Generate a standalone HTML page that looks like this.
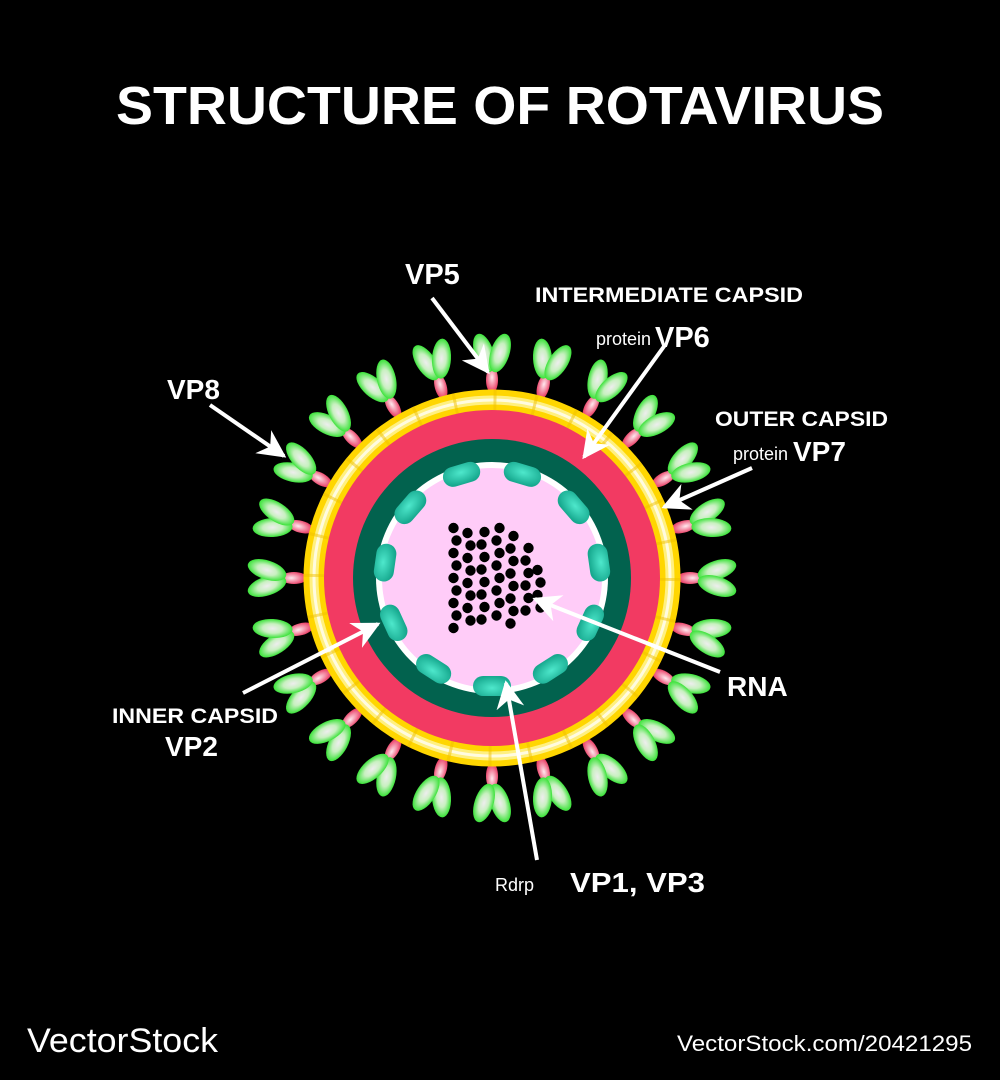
<!DOCTYPE html>
<html><head><meta charset="utf-8"><style>
html,body{margin:0;padding:0;background:#000;width:1000px;height:1080px;overflow:hidden}
svg{display:block}
text{font-family:"Liberation Sans",sans-serif;fill:#fff;font-weight:bold}
</style></head><body>
<svg id="s" width="1000" height="1080" viewBox="0 0 1000 1080">
<defs>
<radialGradient id="leaf" cx="0.5" cy="0.5" r="0.55">
<stop offset="0" stop-color="#eeeeee"/><stop offset="0.45" stop-color="#c8f0c0"/><stop offset="1" stop-color="#1ee01e"/></radialGradient>
<radialGradient id="stalk" cx="0.5" cy="0.4" r="0.6">
<stop offset="0" stop-color="#ffe8ee"/><stop offset="1" stop-color="#e8305a"/></radialGradient>
<radialGradient id="bead" cx="0.5" cy="0.4" r="0.6">
<stop offset="0" stop-color="#4ee8cc"/><stop offset="1" stop-color="#16a88e"/></radialGradient>
<marker id="ah" viewBox="0 0 10 10" refX="9" refY="5" markerWidth="7" markerHeight="7" orient="auto" markerUnits="strokeWidth">
<path d="M0,0 L10,5 L0,10 L3,5 z" fill="#fff"/></marker>
</defs>
<text x="500" y="124" text-anchor="middle" font-size="54" textLength="768" lengthAdjust="spacingAndGlyphs">STRUCTURE OF ROTAVIRUS</text>
<g id="spikes"></g>
<circle cx="492" cy="578" r="178" fill="none" stroke="#ffd600" stroke-width="21"/>
<circle cx="492" cy="578" r="178" fill="none" stroke="#fff080" stroke-width="9"/>
<circle cx="492" cy="578" r="178" fill="none" stroke="#fffbe0" stroke-width="3"/>
<circle cx="492" cy="578" r="178" fill="none" stroke="#f0c000" stroke-width="21" stroke-dasharray="3 37" opacity="0.5"/>
<circle cx="492" cy="578" r="168" fill="#f23a62"/>
<circle cx="492" cy="578" r="139" fill="#02624e"/>
<circle cx="492" cy="578" r="116" fill="#fff"/>
<circle cx="492" cy="578" r="110" fill="#ffccf8"/>
<g id="beads"></g>
<g id="rna" fill="#000"></g>
<g stroke="#fff" stroke-width="4" fill="none" marker-end="url(#ah)">
<line x1="432" y1="298" x2="488" y2="372"/>
<line x1="210" y1="405" x2="284" y2="456"/>
<line x1="665" y1="345" x2="584" y2="457"/>
<line x1="752" y1="468" x2="664" y2="507"/>
<line x1="720" y1="672" x2="535" y2="599"/>
<line x1="243" y1="693" x2="378" y2="624"/>
<line x1="537" y1="860" x2="506" y2="683"/>
</g>
<text x="405" y="284" font-size="29">VP5</text>
<text x="167" y="399" font-size="28">VP8</text>
<text x="535" y="302" font-size="21" textLength="268" lengthAdjust="spacingAndGlyphs">INTERMEDIATE CAPSID</text>
<text x="596" y="345" font-size="18" style="font-weight:normal">protein</text>
<text x="655" y="347" font-size="29">VP6</text>
<text x="715" y="426" font-size="21" textLength="173" lengthAdjust="spacingAndGlyphs">OUTER CAPSID</text>
<text x="733" y="460" font-size="18" style="font-weight:normal">protein</text>
<text x="793" y="461" font-size="28">VP7</text>
<text x="727" y="696" font-size="28">RNA</text>
<text x="112" y="723" font-size="21" textLength="166" lengthAdjust="spacingAndGlyphs">INNER CAPSID</text>
<text x="165" y="756" font-size="28">VP2</text>
<text x="495" y="891" font-size="18" style="font-weight:normal">Rdrp</text>
<text x="570" y="892" font-size="28" textLength="135" lengthAdjust="spacingAndGlyphs">VP1, VP3</text>
<text x="27" y="1052" font-size="34" style="font-weight:normal" textLength="191" lengthAdjust="spacingAndGlyphs">VectorStock</text>
<text x="677" y="1051" font-size="22" style="font-weight:normal" textLength="295" lengthAdjust="spacingAndGlyphs">VectorStock.com/20421295</text>
</svg>
<script>
var NS="http://www.w3.org/2000/svg",cx=492,cy=578;
function el(t,a,p){var e=document.createElementNS(NS,t);for(var k in a)e.setAttribute(k,a[k]);p.appendChild(e);return e;}
var sp=document.getElementById("spikes");
for(var i=0;i<24;i++){var a=i*15;var g=el("g",{transform:"translate("+cx+","+cy+") rotate("+a+")"},sp);
el("ellipse",{cx:0,cy:-198,rx:6,ry:13,fill:"url(#stalk)"},g);
el("ellipse",{cx:-8,cy:-225,rx:9.5,ry:20,fill:"url(#leaf)",transform:"rotate(-18 -8 -225)"},g);
el("ellipse",{cx:8,cy:-225,rx:9.5,ry:20,fill:"url(#leaf)",transform:"rotate(18 8 -225)"},g);}
var bd=document.getElementById("beads");
for(var i=0;i<11;i++){var a=180+i*360/11;
el("rect",{x:-19,y:-108-10,width:38,height:20,rx:10,fill:"url(#bead)",transform:"translate("+cx+","+cy+") rotate("+a+")"},bd);}
var r=document.getElementById("rna");
var cols=[[455,528,630],[469,533,626],[483,532,630],[498,528,622],[512,536,628],[527,548,622],[539,570,618]];
cols.forEach(function(c,j){for(var y=c[1];y<=c[2];y+=12.5)el("circle",{cx:c[0]+((j+Math.round(y/12.5))%2?1.5:-1.5),cy:y,r:5.2},r);});
</script>
</body></html>
